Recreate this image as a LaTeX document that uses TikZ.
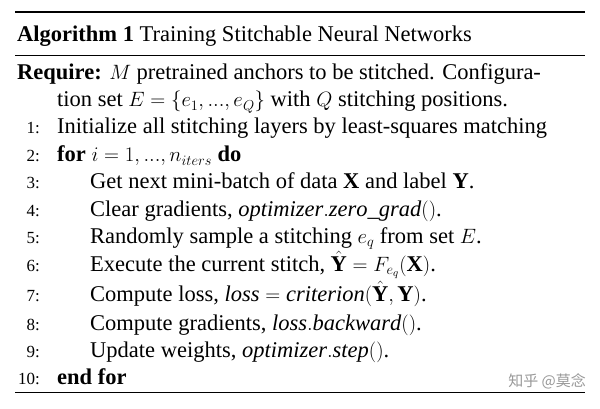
\documentclass[tikz,border=0pt]{standalone}
\usepackage{amsmath,amssymb}
\usepackage{fontspec}
\setmainfont{Liberation Serif}
\newfontfamily\cjk{Noto Sans CJK SC}
\begin{document}
\begin{tikzpicture}[x=1pt,y=-1pt,
  ln/.style={anchor=base west,inner sep=0pt,font=\fontsize{22.5}{24}\selectfont},
  num/.style={anchor=base east,inner sep=0pt,font=\fontsize{17}{18}\selectfont},
  rl/.style={line width=#1}]
\useasboundingbox (0,0) rectangle (600,409);
\fill[white] (0,0) rectangle (600,409);
\coordinate (t1) at (15,12); \coordinate (t2) at (585,12);
\coordinate (h1) at (15,55); \coordinate (h2) at (585,55);
\coordinate (b1) at (15,392); \coordinate (b2) at (585,392);
\draw[rl=1.6pt] (t1) -- (t2);
\draw[rl=0.9pt] (h1) -- (h2);
\draw[rl=0.9pt] (b1) -- (b2);
\node[ln] (hd) at (17,42) {\textbf{Algorithm 1} Training Stitchable Neural Networks};
\node[ln] (rq) at (17,80) {\textbf{Require:} $M$ pretrained anchors to be stitched. Configura-};
\node[ln] (rq2) at (57,107) {tion set $E=\{e_1,...,e_Q\}$ with $Q$ stitching positions.};
\node[num] (n1) at (40,134) {1:}; \node[ln] (l1) at (57,134) {Initialize all stitching layers by least-squares matching};
\node[num] (n2) at (40,162) {2:}; \node[ln] (l2) at (57,162) {\textbf{for} $i=1,...,n_{iters}$ \textbf{do}};
\node[num] (n3) at (40,189) {3:}; \node[ln] (l3) at (90,189) {Get next mini-batch of data $\mathbf{X}$ and label $\mathbf{Y}$.};
\node[num] (n4) at (40,216) {4:}; \node[ln] (l4) at (90,216) {Clear gradients, $\mathit{optimizer.zero\_grad}()$.};
\node[num] (n5) at (40,243) {5:}; \node[ln] (l5) at (90,243) {Randomly sample a stitching $e_q$ from set $E$.};
\node[num] (n6) at (40,271) {6:}; \node[ln] (l6) at (90,271) {Execute the current stitch, $\hat{\mathbf{Y}}=F_{e_q}(\mathbf{X})$.};
\node[num] (n7) at (40,301) {7:}; \node[ln] (l7) at (90,301) {Compute loss, $\mathit{loss}=\mathit{criterion}(\hat{\mathbf{Y}},\mathbf{Y})$.};
\node[num] (n8) at (40,330) {8:}; \node[ln] (l8) at (90,330) {Compute gradients, $\mathit{loss.backward}()$.};
\node[num] (n9) at (40,357) {9:}; \node[ln] (l9) at (90,357) {Update weights, $\mathit{optimizer.step}()$.};
\node[num] (n10) at (40,384) {10:}; \node[ln] (l10) at (57,384) {\textbf{end for}};
\node[anchor=base east,inner sep=0pt,text=gray!80,font=\cjk\fontsize{15}{18}\selectfont] (wm) at (586,386) {知乎 @莫念};
\end{tikzpicture}
\end{document}
